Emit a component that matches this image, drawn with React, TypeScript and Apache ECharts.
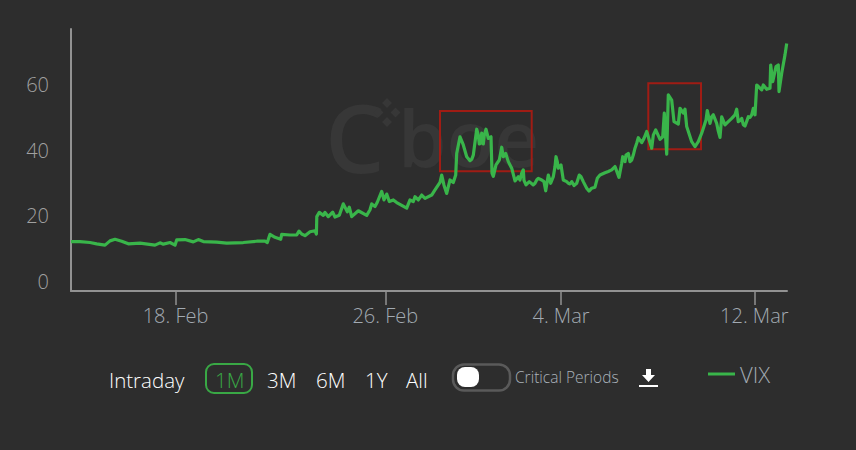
import React, { useEffect, useRef } from "react";
import * as echarts from "echarts";

const BG = "#2d2d2d";
const GREEN = "#39b54a";
const FONT = "'Open Sans', sans-serif";

// Ordinal position along the axis (trading time, non-calendar)
const ordinalPos = [0,9,19,25.7,34,39,44,50.7,57.3,69,84,89,92.3,99,104,105.7,114,122.3,127.3,132.3,145.7,155.7,172.3,185.7,194,196.3,199,204,209.7,210.7,219,225.7,228,230.7,234,239,244,245.4,245.8,248.3,252.3,254,257.3,261.7,264,268.3,272.3,276.3,278.3,280.7,287.3,295.7,299,300.7,304,306.3,310.7,313,315.7,318.3,322.3,325.7,335.7,339,342.3,344,347.3,350.7,354,360.7,364,369,370.7,373,375.7,379,382.3,384.7,385.7,389,392.3,395.7,399,402.3,405.7,408.3,410.7,412.3,415,417.3,420,421,422.3,425,428.3,430.7,432.3,434.7,437.3,440.7,444,447.3,449,452.3,455,458.3,462.3,467.3,470.7,474.7,477.3,479.7,482.3,485,487.3,490,492.3,499,503,508.3,512.3,518,524,526.3,534,540.7,544,548,551.7,554,557.3,560.7,564,567.3,570.7,575.7,580.7,584.7,589,591.7,593.3,594.7,595.7,597.3,600.7,603,607.3,609,612.3,614,615.7,620.7,624,627.3,630.7,636.3,639,642.3,645.7,649,650.7,654,665.7,667.3,670.7,674,677.3,680.7,682.3,684,685.7,690.7,692.3,695.7,699,699.7,701.7,705,707.3,708,710.7,714,715.7];
const vix = [12.1,12.1,11.8,11.4,11,12.3,12.8,12.2,11.4,11.6,11,11.7,11.3,11.8,11,12.6,12.7,12,12.7,12.1,11.9,11.6,11.8,12.2,12.2,11.8,14.3,13.4,12.8,14.3,14.1,14.1,15.3,14.4,13.9,15.1,15.4,14.4,19.7,21,20.1,21,19.7,21.1,19.6,20.1,23.6,21.2,22.6,19.7,21.5,20.1,21.8,23.6,22.8,24.1,27.4,24.8,26.6,24.3,24.8,24,22.3,24.8,24.3,25.8,24.8,26.3,25.3,26.3,27.9,30.2,32.4,29.3,26.8,30.9,30.1,32.4,39,44.1,41.6,38,36.8,38.5,46.4,41.9,45.2,41.9,46.4,43.6,44.1,33,32,35.5,37,40.9,38,39,36.5,34.5,30.6,31.9,30.9,34,29.4,30.4,29.4,31.4,30.9,27.6,32.4,29.9,31.9,38,34.5,35.5,30.9,29.7,29.2,32.4,30.4,27.5,28.7,31.4,33.1,34,35,31.7,38,36.5,39,37,40.6,43.8,42.3,45.7,40.6,46.2,43.3,44.1,51.3,43.6,38.8,56.9,55.3,48.7,48,52.8,51.3,52.5,47.2,42.6,41.1,42.6,45.2,52.1,48.2,50.8,48.2,43.9,50.2,47.7,52.5,48.7,49.7,47.4,50.2,50.8,52.8,50.8,59.9,58.4,59.9,58.6,58.9,66,60.9,65.5,66,57.9,63.5,69.1,72.6];

// Finer wiggles read separately, merged into the line by position
const finePos = [400.7,407.3,409.7,413.3,450.7,453,464,465.7,473,484,486.3,495.7,497.3,500.7,505.7,510,515.7,520.7,529,537.3,550.7,555,559,562.3,565.7,573,582.3,635,640.7,647.3,657.3,660.7,664,669,672.3,675.7,679];
const fineVix = [37.2,44.6,42.1,44.6,33,30.8,29.9,30.9,30.4,35,36.5,30.4,29.9,30.4,29.9,31.9,28.4,28.4,32.4,33.5,36,38.5,36.5,38.5,42.1,43.6,44.6,49.2,50.2,45.8,48.7,49.7,50.8,49,47.8,48.8,50];

const tickPos = [104.5, 314.3, 490, 683.3];
const tickLabels = ["18. Feb", "26. Feb", "4. Mar", "12. Mar"];
const yTicks = [0, 20, 40, 60];

// Critical periods: [posStart, posEnd, vixLow, vixHigh]
const criticalPeriods = [
  [369, 460.7, 33.6, 52],
  [577.3, 630, 40.3, 60.4],
];

const seriesData = [
  ...ordinalPos.map((p, i) => [p, vix[i]]),
  ...finePos.map((p, i) => [p, fineVix[i]]),
].sort((a, b) => a[0] - b[0]);

const rangeButtons = [
  { label: "3M", x: 267 },
  { label: "6M", x: 316 },
  { label: "1Y", x: 365 },
  { label: "All", x: 406 },
];

const diamonds = [[387, 103], [395.5, 112.5], [387, 122], [378.5, 112.5]];

export default function App() {
  const ref = useRef<HTMLDivElement>(null);
  useEffect(() => {
    const chart = echarts.init(ref.current!, undefined, { renderer: "svg" });
    const ctlText = (text: string, x: number, fill: string, y = 380, fontSize = 20.5) => ({
      type: "text", x, y,
      style: { text, fill, font: `300 ${fontSize}px ${FONT}`, textVerticalAlign: "middle" },
    });
    chart.setOption({
      animation: false,
      backgroundColor: BG,
      grid: { left: 71, width: 716, top: 29, height: 262 },
      xAxis: {
        type: "value", min: 0, max: 716,
        splitLine: { show: false },
        axisLine: { onZero: false, lineStyle: { color: "#929292", width: 2 } },
        axisTick: { customValues: tickPos, length: 14, lineStyle: { color: "#929292", width: 1.5 } },
        axisLabel: {
          customValues: tickPos, margin: 14, color: "#a2aab2", fontFamily: FONT, fontWeight: 300, fontSize: 20,
          formatter: (v: number) => tickLabels[tickPos.indexOf(v)] ?? "",
        },
      },
      yAxis: {
        type: "value", min: -3, max: 77,
        splitLine: { show: false },
        axisLine: { show: true, onZero: false, lineStyle: { color: "#929292", width: 2 } },
        axisTick: { show: false },
        axisLabel: { customValues: yTicks, margin: 22, color: "#a0a0a0", fontFamily: FONT, fontWeight: 300, fontSize: 20 },
      },
      legend: {
        show: true, left: 703, top: 358, itemWidth: 27, itemHeight: 14, itemGap: 6,
        icon: "path://M0 5.5H27V8.5H0Z",
        textStyle: { color: "#a2aab2", fontFamily: FONT, fontWeight: 300, fontSize: 22, padding: [0, 0, 2, 0] },
        data: ["VIX"],
      },
      series: [{
        name: "VIX", type: "line", data: seriesData, showSymbol: false, symbol: "none",
        lineStyle: { color: GREEN, width: 3.2, join: "round" },
        itemStyle: { color: GREEN },
        markArea: {
          silent: true,
          itemStyle: { color: "rgba(0,0,0,0)", borderColor: "#a01c14", borderWidth: 2 },
          data: criticalPeriods.map(([x0, x1, y0, y1]) => [{ xAxis: x0, yAxis: y0 }, { xAxis: x1, yAxis: y1 }]),
        },
      }],
      graphic: [
        { type: "text", x: 325, y: 137, z: -1, style: { text: "C", fill: "#373737", font: `600 94px ${FONT}`, textVerticalAlign: "middle" } },
        { type: "text", x: 398, y: 137, z: -1, style: { text: "boe", fill: "#373737", font: `600 78px ${FONT}`, textVerticalAlign: "middle" } },
        ...diamonds.map(([x, y]) => ({ type: "rect", x, y, rotation: Math.PI / 4, z: -1, shape: { x: -3.5, y: -3.5, width: 7, height: 7 }, style: { fill: "#373737" } })),
        ctlText("Intraday", 109, "#ffffff"),
        { type: "rect", shape: { x: 206, y: 364, width: 46, height: 29, r: 8 }, style: { fill: "none", stroke: "#39a845", lineWidth: 2 } },
        ctlText("1M", 215, "#39a845"),
        ...rangeButtons.map((b) => ctlText(b.label, b.x, "#ffffff")),
        { type: "rect", shape: { x: 453, y: 364.5, width: 57, height: 26, r: 11 }, style: { fill: BG, stroke: "#5a5a5a", lineWidth: 2.5 } },
        { type: "rect", shape: { x: 457, y: 367, width: 22, height: 20, r: 8 }, style: { fill: "#ffffff" } },
        ctlText("Critical Periods", 515, "#aab2ba", 377, 15.5),
        { type: "polygon", shape: { points: [[646, 369], [651, 369], [651, 375], [655, 375], [648.5, 382], [642, 375], [646, 375]] }, style: { fill: "#ffffff" } },
        { type: "rect", shape: { x: 639, y: 385, width: 19, height: 2 }, style: { fill: "#ffffff" } },
      ],
    });
    return () => chart.dispose();
  }, []);
  return <div ref={ref} style={{ position: "absolute", left: 0, top: 0, width: 856, height: 450 }} />;
}
